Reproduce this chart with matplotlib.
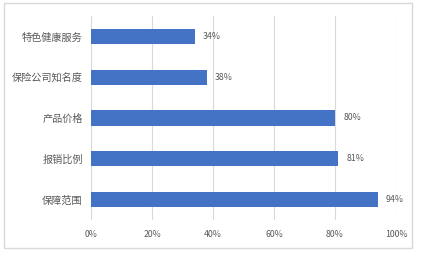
import matplotlib
matplotlib.use("Agg")
import matplotlib.pyplot as plt
from matplotlib.patches import Rectangle

plt.rcParams['font.family'] = ['Noto Sans CJK SC', 'DejaVu Sans']

# data (top to bottom as shown)
categories = ["特色健康服务", "保险公司知名度", "产品价格", "报销比例", "保障范围"]
values = [34, 38, 80, 81, 94]
xticks = [0, 20, 40, 60, 80, 100]

bar_color = "#4472C4"
text_color = "#595959"
grid_color = "#d9d9d9"

fig = plt.figure(figsize=(4.21, 2.56), dpi=100)
ax = fig.add_axes([91 / 421, 36 / 256, 305 / 421, 204 / 256])

# outer chart border
fig.patches.append(Rectangle((4 / 421, 8 / 256), 408 / 421, 245 / 256,
                             transform=fig.transFigure, fill=False,
                             edgecolor=grid_color, linewidth=1))

y = list(range(len(categories)))
ax.barh(y, values, height=0.37, color=bar_color, zorder=3)
for yi, v in zip(y, values):
    ax.text(v + 2.7, yi, f"{v}%", va="center", ha="left", fontsize=6.3,
            color=text_color)

ax.set_xlim(0, 100)
ax.set_ylim(len(categories) - 0.5, -0.5)
ax.set_yticks(y)
ax.set_yticklabels(categories, fontsize=7.3, color=text_color)
ax.set_xticks(xticks)
ax.set_xticklabels([f"{t}%" for t in xticks], fontsize=6.3, color=text_color)
ax.tick_params(length=0)
ax.tick_params(axis="y", pad=6)
ax.tick_params(axis="x", pad=7)
ax.grid(axis="x", color=grid_color, linewidth=0.8, zorder=0)
for s in ax.spines.values():
    s.set_visible(False)

fig.savefig("out.png", dpi=100)
